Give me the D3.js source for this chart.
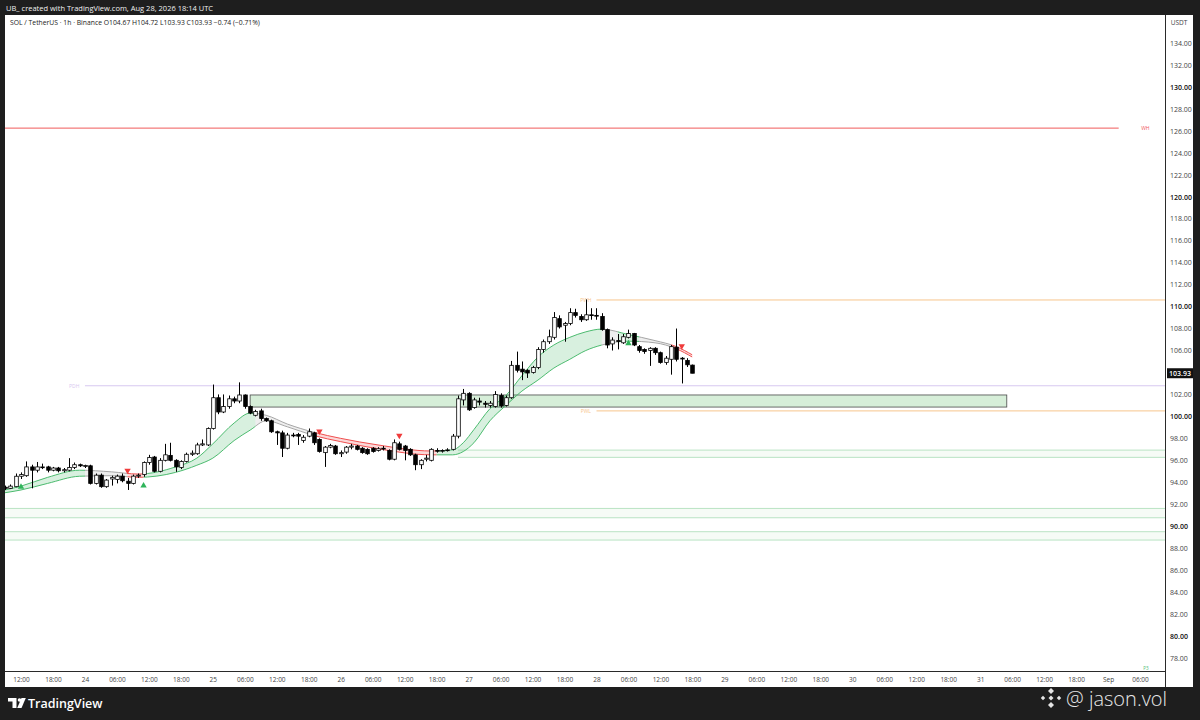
<!DOCTYPE html>
<html><head><meta charset="utf-8">
<script src="https://cdn.jsdelivr.net/npm/d3@7"></script>
<style>
html,body{margin:0;padding:0;background:#1e1e1e;}
svg{display:block;font-family:"Open Sans","DejaVu Sans",sans-serif;}
</style></head><body>
<svg id="c" width="1200" height="720"></svg>
<script>
// ---------------- DATA ----------------
const symbolTitle = "SOL / TetherUS · 1h · Binance";
const headerText = "UB_ created with TradingView.com, Aug 28, 2026 18:14 UTC";
const firstCandleUTC = Date.UTC(2026, 7, 23, 9); // Aug 23 09:00 UTC, 1h candles

const opens  = [93.55,93.45,93.6,94.55,94.6,95.4,95.1,95.35,95.4,95.1,95.3,95.05,95.1,95.35,95.6,95.5,95.5,93.9,94.65,93.6,94.3,94.26,94.56,94.1,93.9,94.56,94.7,95.8,96.3,95.0,96.0,96.45,96.0,95.35,95.9,96.55,96.6,97.4,97.4,98.9,101.7,100.4,100.9,101.6,101.4,101.95,100.9,100.1,100.5,99.8,99.6,98.6,98.5,97.1,98.3,98.35,97.8,98.2,98.5,97.9,96.7,97.2,97.3,96.6,96.75,97.2,97.3,97.1,97.0,97.1,96.9,97.05,96.9,96.1,97.5,97.3,97.0,96.5,95.6,96.1,96.0,96.9,96.85,96.9,97.0,98.2,101.5,102.1,100.8,101.4,101.2,101.0,100.9,101.9,101.0,101.7,104.65,104.3,104.2,104.0,104.45,106.1,106.8,107.2,108.9,108.3,108.45,109.45,109.1,108.8,109.25,109.2,109.1,107.9,106.6,106.9,106.7,107.2,107.55,106.35,106.1,106.0,106.2,105.8,104.9,105.2,106.3,105.25,105.1,104.67];
const highs  = [93.7,93.8,94.8,94.9,95.9,95.6,95.85,95.7,95.5,95.4,95.4,95.3,96.2,95.8,95.7,95.6,95.6,94.8,94.8,94.3,94.6,94.7,94.8,94.4,94.7,94.8,95.9,96.5,96.4,96.2,97.5,97.6,96.1,96.0,96.7,96.9,97.6,97.9,99.0,102.9,102.0,102.0,101.9,101.8,103.1,102.0,101.0,100.6,100.7,99.9,99.7,98.7,98.7,98.5,98.5,98.5,98.3,98.9,98.6,98.0,97.3,97.5,97.4,96.9,97.3,97.5,97.4,97.2,97.1,97.2,97.2,97.3,97.0,97.9,97.7,97.4,97.1,96.6,96.1,96.5,97.1,97.1,97.0,97.1,98.4,101.9,102.5,102.2,101.7,101.7,101.4,101.4,102.3,102.1,101.9,105.05,105.9,105.0,104.3,104.6,106.3,107.0,107.9,109.5,109.2,108.6,109.85,109.8,109.3,110.65,109.85,109.85,109.4,108.0,107.2,107.5,107.5,107.9,107.6,106.5,106.2,106.3,106.3,105.9,105.5,106.5,108.0,105.4,105.3,104.72];
const lows   = [93.3,93.4,93.55,94.3,94.5,93.45,94.9,95.2,94.9,95.0,94.9,94.9,95.0,95.2,95.4,95.3,93.8,93.8,93.5,93.5,93.7,93.9,94.0,93.3,93.8,94.4,94.5,95.6,94.9,94.9,95.9,95.9,94.95,95.2,95.8,96.4,96.5,97.3,97.3,98.8,100.2,100.3,100.7,101.2,101.2,100.7,100.2,100.0,99.6,99.5,98.5,97.4,96.3,97.0,98.1,97.4,97.6,98.1,97.4,96.7,95.4,97.1,96.5,96.3,96.6,97.0,96.9,96.6,96.5,96.7,96.8,96.9,96.0,96.0,96.9,96.0,96.4,95.1,95.2,95.9,95.9,96.7,96.7,96.8,96.9,98.0,101.0,100.5,100.7,101.0,100.8,100.8,100.8,100.8,100.9,101.6,104.0,103.3,103.5,103.9,104.3,105.8,106.6,107.0,108.0,106.8,108.3,109.0,108.6,108.7,108.8,108.8,107.8,106.2,106.0,106.1,106.6,107.1,106.4,105.8,105.7,104.6,105.6,104.8,104.7,103.8,105.0,103.0,104.5,103.93];
const closes = [93.45,93.65,94.55,94.7,95.4,95.1,95.4,95.4,95.1,95.3,95.05,95.15,95.35,95.6,95.5,95.52,93.9,94.65,93.6,94.2,94.45,94.56,94.14,93.9,94.56,94.65,95.8,96.26,95.0,96.0,96.5,96.0,95.4,95.9,96.55,96.65,97.4,97.5,98.9,101.7,100.4,100.9,101.6,101.4,101.95,100.9,100.3,100.45,99.8,99.6,98.6,98.5,97.1,98.3,98.25,98.2,98.1,98.6,97.6,96.8,97.2,97.35,96.6,96.7,97.2,97.3,97.0,96.7,96.6,96.8,97.05,97.1,96.1,97.6,97.0,96.9,96.5,95.6,96.0,96.2,97.0,96.85,96.9,96.95,98.2,101.6,102.1,100.6,101.5,101.3,101.1,101.2,102.0,100.95,101.7,104.65,104.2,104.05,103.95,104.45,106.1,106.8,107.25,109.0,108.15,108.45,109.45,109.2,108.8,109.25,109.2,109.15,107.9,106.5,106.95,106.85,107.25,107.55,106.5,106.0,105.9,106.2,105.8,104.9,105.3,106.35,105.2,105.3,104.7,103.93];

// MA ribbon (candle index, upper, lower)
const ribbonIdx   = [0,3,8,14,20,25,32,36,39,43,46,49,53,58,63,70,80,84,86,88,91,94,97,100,103,106,109,112,117,122,126,129];
const ribbonUpper = [93.3,93.65,94.45,95.1,94.95,94.75,95.4,96.2,97.5,99.4,100.3,100.1,99.3,98.55,98.0,97.4,96.85,96.95,97.6,98.8,100.7,101.9,103.7,105.4,106.5,107.2,107.7,107.95,107.45,106.9,106.35,105.6];
const ribbonLower = [93.05,93.3,93.9,94.55,94.6,94.45,94.9,95.55,96.2,97.8,98.75,99.6,99.05,98.25,97.7,97.05,96.5,96.5,96.8,97.6,99.6,101.0,102.3,103.3,104.4,105.2,106.0,106.5,106.85,106.7,106.15,105.4];
const ribbonStateStart = [0,15,23,26,47,58,81,112,115,119,125];
const ribbonStateEnd   = [15,23,26,47,58,81,112,115,119,125,129];
const ribbonStateKind  = ["bull","flat","bear","bull","flat","bear","bull","flat","bull","flat","bear"];

// signals
const signalIdx   = [3,23,26,59,74,117,127];
const signalPrice = [93.65,95.0,93.75,98.57,98.2,106.7,106.35];
const signalDir   = ["up","down","up","down","down","up","down"];

// horizontal levels
const levelPrice = [126.25,110.6,100.5,102.79];
const levelStart = [-1,111,111,15];
const levelEnd   = [209,null,null,null];
const levelKind  = ["red","orange","orange","purple"];
const levelLabel = ["WH","PWH","PWL","PDH"];
const levelLabelIdx = [214,109,109,13];

// green zones (upper, lower, start index)
const zoneTop   = [96.93,91.62,89.5];
const zoneBot   = [96.27,90.77,88.74];
const zoneStart = [85,-1,-1];

// order block
const obTop = 101.95, obBot = 100.85, obStart = 46, obEnd = 188;

// axis ticks
const priceTicks = d3.range(78, 135, 2);
const lastPrice = 103.93;
const legendOHLC = "O104.67  H104.72  L103.93  C103.93  −0.74 (−0.71%)";

// ---------------- DRAW ----------------
const svg = d3.select("#c");
const W = 1200, H = 720;
const chartL = 5, chartR = 1165, chartT = 15, chartB = 671, axisR = 1193, panelB = 687;

svg.append("rect").attr("width", W).attr("height", H).attr("fill", "#1e1e1e");
svg.append("rect").attr("x", chartL).attr("y", chartT).attr("width", axisR - chartL).attr("height", panelB - chartT).attr("fill", "#ffffff");

const x = d3.scaleUtc()
  .domain([new Date(Date.UTC(2026,7,23,12)), new Date(Date.UTC(2026,8,1,6))])
  .range([21, 1140]);
const tOf = i => new Date(firstCandleUTC + i * 3600e3);
const xi = i => x(tOf(i));
const y = d3.scaleLinear().domain([78, 134]).range([658, 43]);

const plot = svg.append("g");
svg.append("clipPath").attr("id","plotclip").append("rect")
  .attr("x", chartL).attr("y", chartT).attr("width", chartR - chartL).attr("height", chartB - chartT);
plot.attr("clip-path","url(#plotclip)");

// green zones
zoneTop.forEach((tp, k) => {
  const x0 = zoneStart[k] < 0 ? chartL : xi(zoneStart[k]);
  plot.append("rect").attr("x", x0).attr("y", y(tp)).attr("width", chartR - x0)
    .attr("height", y(zoneBot[k]) - y(tp)).attr("fill", "rgba(76,175,80,0.05)");
  [tp, zoneBot[k]].forEach(v => plot.append("line").attr("x1", x0).attr("x2", chartR)
    .attr("y1", y(v)).attr("y2", y(v)).attr("stroke", "#b9e3c3").attr("stroke-width", 1));
});

// levels
const levelColor = {red:"#f05a5a", orange:"#f7c58c", purple:"#d7c8f0"};
levelPrice.forEach((p, k) => {
  const x0 = levelStart[k] < 0 ? chartL : xi(levelStart[k]);
  const x1 = levelEnd[k] == null ? chartR : xi(levelEnd[k]);
  plot.append("line").attr("x1", x0).attr("x2", x1).attr("y1", y(p)).attr("y2", y(p))
    .attr("stroke", levelColor[levelKind[k]]).attr("stroke-width", 1);
  plot.append("text").attr("x", xi(levelLabelIdx[k])).attr("y", y(p) + 1.8)
    .attr("font-size", 5).attr("fill", levelColor[levelKind[k]]).attr("text-anchor", "middle")
    .text(levelLabel[k]);
});

// order block
plot.append("rect").attr("x", xi(obStart)).attr("y", y(obTop))
  .attr("width", xi(obEnd) - xi(obStart)).attr("height", y(obBot) - y(obTop))
  .attr("fill", "#d6eed8").attr("stroke", "#4a4a4a").attr("stroke-width", 0.8);

// ribbon
const ribbonPts = ribbonIdx.map((d, k) => ({i: d, u: ribbonUpper[k], l: ribbonLower[k]}));
const area = d3.area().x(d => xi(d.i)).y0(d => y(d.l)).y1(d => y(d.u)).curve(d3.curveMonotoneX);
const lineU = d3.line().x(d => xi(d.i)).y(d => y(d.u)).curve(d3.curveMonotoneX);
const lineL = d3.line().x(d => xi(d.i)).y(d => y(d.l)).curve(d3.curveMonotoneX);
const kindStyle = {
  bull: {s:"#4cbb6f", f:"rgba(76,187,111,0.22)"},
  bear: {s:"#ef4f4f", f:"rgba(239,79,79,0.22)"},
  flat: {s:"#a6a6a6", f:"rgba(160,160,160,0.18)"}
};
ribbonStateStart.forEach((s, k) => {
  const id = "rc" + k;
  svg.append("clipPath").attr("id", id).append("rect")
    .attr("x", xi(s)).attr("y", 0).attr("width", xi(ribbonStateEnd[k]) - xi(s)).attr("height", H);
  const g = plot.append("g").attr("clip-path", `url(#${id})`);
  const st = kindStyle[ribbonStateKind[k]];
  g.append("path").attr("d", area(ribbonPts)).attr("fill", st.f);
  g.append("path").attr("d", lineU(ribbonPts)).attr("fill", "none").attr("stroke", st.s).attr("stroke-width", 1);
  g.append("path").attr("d", lineL(ribbonPts)).attr("fill", "none").attr("stroke", st.s).attr("stroke-width", 1);
});

// candles
const bw = 3.6;
const cg = plot.append("g");
opens.forEach((o, i) => {
  const c = closes[i], cx = Math.round(xi(i)) + 0.5;
  const up = c >= o;
  cg.append("line").attr("x1", cx).attr("x2", cx).attr("y1", y(highs[i])).attr("y2", y(lows[i]))
    .attr("stroke", "#000").attr("stroke-width", 1);
  const top = y(Math.max(o, c)), bot = y(Math.min(o, c));
  cg.append("rect").attr("x", cx - bw / 2).attr("y", top).attr("width", bw)
    .attr("height", Math.max(0.8, bot - top))
    .attr("fill", up ? "#ffffff" : "#000000").attr("stroke", "#000").attr("stroke-width", 0.8);
});

// signals
signalIdx.forEach((i, k) => {
  const cx = xi(i), cy = y(signalPrice[k]);
  const up = signalDir[k] === "up";
  const p = up ? `M${cx},${cy-3} L${cx+3.2},${cy+2.5} L${cx-3.2},${cy+2.5} Z`
               : `M${cx},${cy+3} L${cx+3.2},${cy-2.5} L${cx-3.2},${cy-2.5} Z`;
  plot.append("path").attr("d", p).attr("fill", up ? "#2fb45a" : "#ef3b3b");
});

// axes frames
svg.append("line").attr("x1", chartR + 0.5).attr("x2", chartR + 0.5).attr("y1", chartT).attr("y2", panelB).attr("stroke", "#2a2a2a").attr("stroke-width", 1);
svg.append("line").attr("x1", chartL).attr("x2", chartR).attr("y1", chartB + 0.5).attr("y2", chartB + 0.5).attr("stroke", "#2a2a2a").attr("stroke-width", 1);

// price axis
const ya = svg.append("g").attr("transform", `translate(${chartR},0)`)
  .call(d3.axisRight(y).tickValues(priceTicks).tickSize(0).tickPadding(5).tickFormat(d => d.toFixed(2)));
ya.select(".domain").remove();
ya.selectAll("text").attr("font-size", 7).attr("font-family", "Open Sans, DejaVu Sans, sans-serif")
  .attr("fill", d => d % 10 === 0 ? "#111" : "#444").attr("font-weight", d => d % 10 === 0 ? 600 : 400);
svg.append("text").attr("x", 1179).attr("y", 25).attr("text-anchor", "middle").attr("font-size", 6.5).attr("fill", "#444").text("USDT");

// last price tag
svg.append("rect").attr("x", chartR + 2).attr("y", y(lastPrice) - 5).attr("width", 26).attr("height", 10).attr("fill", "#111");
svg.append("text").attr("x", chartR + 15).attr("y", y(lastPrice) + 2.5).attr("text-anchor", "middle")
  .attr("font-size", 7).attr("font-weight", 600).attr("fill", "#fff").text(lastPrice.toFixed(2));

// time axis
const timeTicks = d3.utcHour.every(6).range(new Date(Date.UTC(2026,7,23,12)), new Date(Date.UTC(2026,8,1,7)));
const fmtTime = d => {
  if (d.getUTCHours() === 0) return d.getUTCDate() === 1 ? d3.utcFormat("%b")(d) : String(d.getUTCDate());
  return d3.utcFormat("%H:%M")(d);
};
const xa = svg.append("g").attr("transform", `translate(0,${chartB})`)
  .call(d3.axisBottom(x).tickValues(timeTicks).tickSize(0).tickPadding(6).tickFormat(fmtTime));
xa.select(".domain").remove();
xa.selectAll("text").attr("font-size", 6.5).attr("fill", "#444").attr("font-family", "Open Sans, DejaVu Sans, sans-serif");

// P3 label
svg.append("text").attr("x", 1146).attr("y", 670).attr("font-size", 4.5).attr("fill", "#4cbb6f").attr("text-anchor", "middle").text("P3");

// header
svg.append("text").attr("x", 6).attr("y", 10.5).attr("font-size", 7.5).attr("fill", "#f0f0f0").text(headerText);
svg.append("text").attr("x", 10).attr("y", 24.5).attr("font-size", 6.8).attr("fill", "#222")
  .text(symbolTitle + "   " + legendOHLC);

// footer: TradingView logo
const lg = svg.append("g").attr("fill", "#ffffff");
lg.append("path").attr("d", "M8,698 h8.5 v10 h-4 v-6.5 h-4.5 Z");
lg.append("circle").attr("cx", 19.5).attr("cy", 700).attr("r", 1.8);
lg.append("path").attr("d", "M21.5,698 h4.3 l-4.3,10 h-4.3 Z");
svg.append("text").attr("x", 28).attr("y", 708).attr("font-size", 12.5).attr("font-weight", 600)
  .attr("fill", "#ffffff").attr("font-family", "Open Sans, DejaVu Sans, sans-serif").text("TradingView");

// watermark
const bl = svg.append("g").attr("fill", "#e6e6e6");
[[1051,691,3],[1043,698,2.2],[1059,698,2.2],[1051,705,3],[1051,698,2.5]].forEach(([cx,cy,r]) => {
  bl.append("path").attr("d", `M${cx},${cy-r} L${cx+r},${cy} L${cx},${cy+r} L${cx-r},${cy} Z`);
});
svg.append("text").attr("x", 1066).attr("y", 706).attr("font-size", 20).attr("font-weight", 300)
  .attr("fill", "#e8e8e8").attr("font-family", "Open Sans, DejaVu Sans, sans-serif").text("@ jason.vol");
</script>
</body></html>
